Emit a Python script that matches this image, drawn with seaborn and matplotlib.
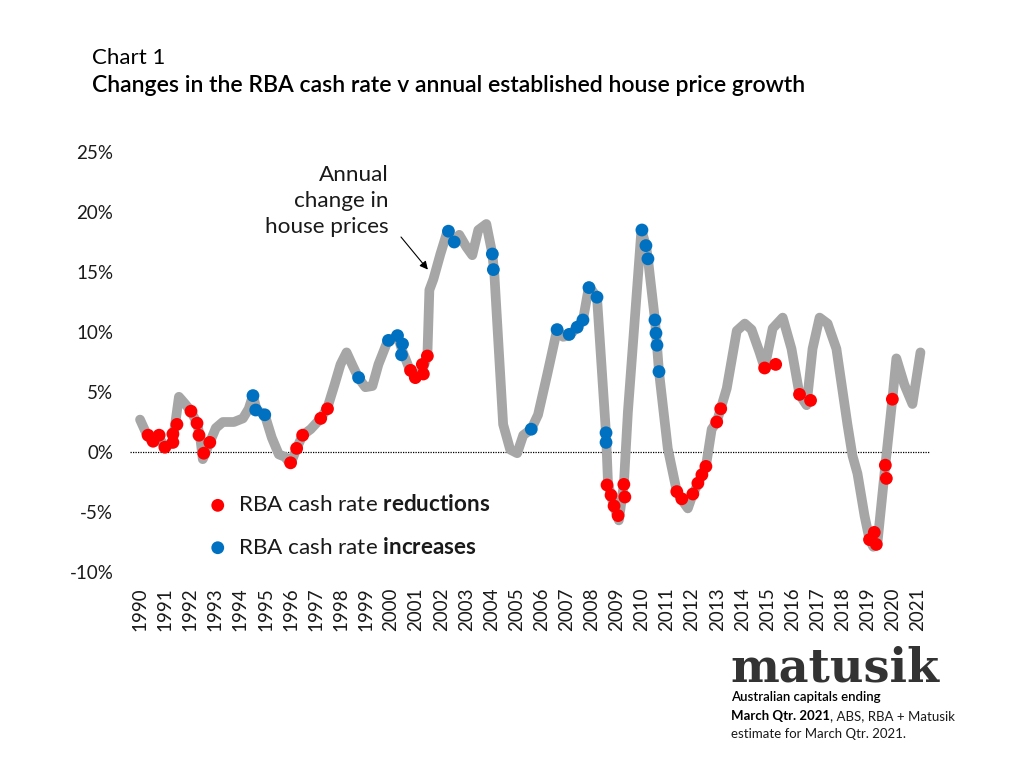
import matplotlib
matplotlib.use("Agg")
import matplotlib.pyplot as plt
import seaborn as sns
import pandas as pd

# ---- data ----
line_year = [1990.0, 1990.28, 1990.52, 1990.76, 1991.0, 1991.3, 1991.55, 1991.8, 1992.03, 1992.27,
             1992.4, 1992.5, 1992.78, 1993.02, 1993.3, 1993.74, 1994.1, 1994.33, 1994.5, 1994.65,
             1994.97, 1995.25, 1995.53, 1995.77, 1996.0, 1996.24, 1996.48, 1996.8, 1997.2, 1997.47,
             1997.75, 1997.99, 1998.23, 1998.47, 1998.7, 1998.98, 1999.26, 1999.5, 1999.82, 1999.98,
             2000.26, 2000.44, 2000.74, 2000.98, 2001.25, 2001.45, 2001.53, 2001.69, 2001.97, 2002.25,
             2002.49, 2002.72, 2003.0, 2003.24, 2003.48, 2003.8, 2004.04, 2004.12, 2004.47, 2004.75,
             2005.03, 2005.27, 2005.59, 2005.86, 2006.22, 2006.62, 2006.86, 2007.1, 2007.42, 2007.65,
             2007.89, 2008.21, 2008.57, 2008.65, 2008.77, 2008.88, 2009.08, 2009.28, 2009.44, 2009.98,
             2010.16, 2010.24, 2010.52, 2010.56, 2010.6, 2010.68, 2011.03, 2011.39, 2011.59, 2011.83,
             2012.03, 2012.23, 2012.39, 2012.55, 2012.78, 2012.98, 2013.14, 2013.38, 2013.78, 2014.1,
             2014.37, 2014.69, 2014.89, 2015.21, 2015.61, 2015.96, 2016.28, 2016.56, 2016.8, 2017.08,
             2017.4, 2017.75, 2018.19, 2018.39, 2018.59, 2018.87, 2019.07, 2019.22, 2019.38, 2019.7,
             2019.98, 2020.14, 2020.46, 2020.78, 2021.1]
line_value = [2.7, 1.4, 0.8, 1.2, 0.4, 0.8, 4.6, 4.0, 3.4, 2.4,
              1.2, -0.6, 0.8, 2.0, 2.5, 2.5, 2.8, 3.6, 4.7, 3.5,
              3.1, 1.2, -0.2, -0.4, -1.0, 0.3, 1.4, 1.9, 2.8, 3.7,
              5.6, 7.3, 8.3, 7.2, 6.2, 5.4, 5.5, 7.3, 9.0, 9.3,
              9.7, 8.5, 6.9, 6.1, 6.8, 8.0, 13.5, 14.4, 16.5, 18.4,
              17.4, 18.1, 17.1, 16.4, 18.5, 19.0, 16.5, 14.8, 2.3, 0.2,
              -0.1, 1.4, 1.9, 3.1, 6.4, 10.2, 9.6, 9.7, 10.4, 11.0,
              13.8, 12.9, 1.5, -2.7, -3.6, -4.5, -5.7, -2.7, 3.3, 18.5,
              17.2, 16.1, 11.0, 9.9, 8.9, 6.7, 0.3, -3.3, -4.0, -4.7,
              -3.5, -2.7, -1.9, -1.2, 1.9, 2.5, 3.6, 5.3, 10.1, 10.7,
              10.2, 8.3, 7.0, 10.3, 11.2, 8.6, 4.8, 3.9, 8.6, 11.2,
              10.7, 8.6, 2.3, -0.3, -1.8, -5.3, -7.3, -7.9, -7.7, -1.1,
              4.4, 7.8, 5.6, 4.0, 8.3]

cut_year = [1990.32, 1990.52, 1990.76, 1990.99, 1991.31, 1991.31, 1991.47, 1992.03, 1992.27, 1992.35,
            1992.54, 1992.78, 1996.0, 1996.24, 1996.48, 1997.2, 1997.47, 2000.78, 2000.97, 2001.29,
            2001.25, 2001.45, 2008.61, 2008.77, 2008.89, 2009.05, 2009.28, 2009.32, 2011.39, 2011.59,
            2012.03, 2012.23, 2012.39, 2012.55, 2012.98, 2013.14, 2014.89, 2015.33, 2016.28, 2016.72,
            2019.07, 2019.26, 2019.34, 2019.7, 2019.74, 2019.98]
cut_value = [1.4, 0.9, 1.4, 0.4, 0.8, 1.5, 2.3, 3.4, 2.4, 1.4,
             -0.1, 0.8, -0.9, 0.3, 1.4, 2.8, 3.6, 6.8, 6.2, 6.5,
             7.3, 8.0, -2.75, -3.6, -4.5, -5.3, -2.7, -3.75, -3.3, -3.9,
             -3.5, -2.6, -1.9, -1.2, 2.5, 3.6, 7.0, 7.3, 4.8, 4.3,
             -7.3, -6.7, -7.7, -1.1, -2.2, 4.4]

hike_year = [1994.5, 1994.61, 1994.97, 1998.71, 1999.9, 2000.26, 2000.46, 2000.42, 2002.29, 2002.52,
             2004.04, 2004.08, 2005.59, 2006.62, 2007.1, 2007.42, 2007.65, 2007.89, 2008.21, 2008.57,
             2008.57, 2010.0, 2010.16, 2010.24, 2010.52, 2010.56, 2010.6, 2010.68]
hike_value = [4.7, 3.5, 3.1, 6.2, 9.3, 9.7, 9.0, 8.1, 18.4, 17.5,
              16.5, 15.2, 1.9, 10.2, 9.8, 10.4, 11.0, 13.7, 12.9, 1.6,
              0.8, 18.5, 17.2, 16.1, 11.0, 9.9, 8.9, 6.7]

years = list(range(1990, 2022))
y_ticks = [-10, -5, 0, 5, 10, 15, 20, 25]
y_labels = [f"{v}%" for v in y_ticks]

# ---- style ----
sns.set_theme(style="white")
FONT = "Lato"
plt.rcParams["font.family"] = [FONT, "DejaVu Sans"]
plt.rcParams["mathtext.fontset"] = "custom"
plt.rcParams["mathtext.rm"] = FONT
plt.rcParams["mathtext.bf"] = FONT + ":bold"

fig = plt.figure(figsize=(10.24, 7.68), dpi=100)
W, H = 1024, 768
ax = fig.add_axes([130 / W, 1 - 572 / H, 800 / W, 420 / H])

line_df = pd.DataFrame({"year": line_year, "value": line_value})
cut_df = pd.DataFrame({"year": cut_year, "value": cut_value})
hike_df = pd.DataFrame({"year": hike_year, "value": hike_value})

ax.axhline(0, color="black", lw=0.9, ls=(0, (1, 1)), zorder=1)
sns.lineplot(data=line_df, x="year", y="value", ax=ax, color="#a6a6a6", lw=7,
             estimator=None, sort=False, zorder=2, solid_joinstyle="round", solid_capstyle="round")
sns.scatterplot(data=cut_df, x="year", y="value", ax=ax, color="#ff0000", s=85,
                edgecolor="none", zorder=3, label="RBA cash rate $\\mathbf{reductions}$")
sns.scatterplot(data=hike_df, x="year", y="value", ax=ax, color="#0070c0", s=85,
                edgecolor="none", zorder=3, label="RBA cash rate $\\mathbf{increases}$")

ax.set_xlim(1989.6, 2021.48)
ax.set_ylim(-10, 25)
ax.set_xticks(years)
ax.set_xticklabels([str(y) for y in years], rotation=90, fontsize=13.5, color="#1a1a1a")
ax.set_yticks(y_ticks)
ax.set_yticklabels(y_labels, fontsize=13.5, color="#1a1a1a")
ax.tick_params(axis="both", length=0)
ax.tick_params(axis="y", pad=12)
ax.tick_params(axis="x", pad=11)
ax.set_xlabel("")
ax.set_ylabel("")
for s in ax.spines.values():
    s.set_visible(False)

leg = ax.legend(loc="upper left", bbox_to_anchor=(184 / W, 1 - 474 / H),
                bbox_transform=fig.transFigure, frameon=False, fontsize=16.2,
                handletextpad=0.3, labelspacing=0.95, markerscale=1.0, handlelength=1.2)
for t in leg.get_texts():
    t.set_color("#1a1a1a")

# annotation
fig.text(389 / W, 1 - 201 / H, "Annual\nchange in\nhouse prices", ha="right", va="center",
         fontsize=16.2, color="#1a1a1a", linespacing=1.38)
ax.annotate("", xy=(2001.47, 15.2), xytext=(401 / W, 1 - 237 / H),
            textcoords="figure fraction",
            arrowprops=dict(arrowstyle="-|>", color="black", lw=0.8, mutation_scale=12,
                            shrinkA=0, shrinkB=0))

# titles
fig.text(92 / W, 1 - 58 / H, "Chart 1", fontsize=16, color="black", va="center", ha="left")
fig.text(92 / W, 1 - 85 / H, "Changes in the RBA cash rate v annual established house price growth",
         fontsize=16.6, color="black", va="center", ha="left", fontweight="semibold")

# logo and source
fig.text(730 / W, 1 - 682 / H, "matusik", fontsize=33.2, fontweight="bold",
         family=["DejaVu Serif"], color="#333333", va="baseline", ha="left")
fig.text(731 / W, 1 - 697 / H, "Australian capitals ending", fontsize=9.5,
         fontweight="semibold", color="black", va="center", ha="left")
b = fig.text(731 / W, 1 - 716 / H, "March Qtr. 2021", fontsize=9.5, fontweight="bold",
             color="black", va="center", ha="left")
fig.canvas.draw()
bb = b.get_window_extent(renderer=fig.canvas.get_renderer())
fig.text(bb.x1 / W, 1 - 716 / H, ", ABS, RBA + Matusik", fontsize=9.5,
         color="#1a1a1a", va="center", ha="left")
fig.text(731 / W, 1 - 734 / H, "estimate for March Qtr. 2021.", fontsize=9.5,
         color="#1a1a1a", va="center", ha="left")

fig.savefig("out.png", dpi=100, facecolor="white")
